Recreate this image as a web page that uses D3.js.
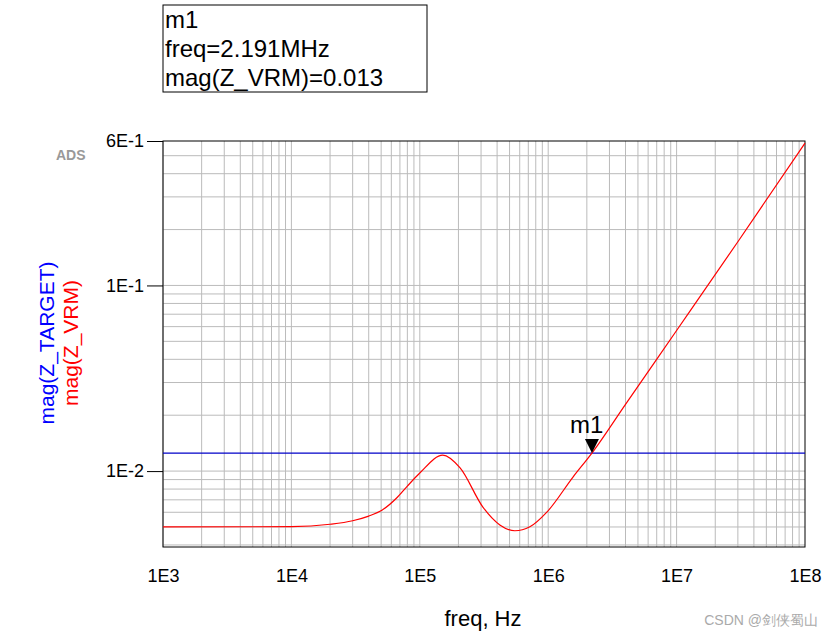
<!DOCTYPE html><html><head><script src="https://cdn.jsdelivr.net/npm/d3@7"></script>
<style>body{margin:0;background:#fff}text{font-family:Arial,"Liberation Sans",sans-serif}</style></head><body>
<svg id="c" width="830" height="638"></svg>
<script>
const freqs=[1e3,1e4,2e4,3e4,4e4,5.1e4,6.6e4,8e4,1e5,1.51e5,2.06e5,3.1e5,4.2e5,5.5e5,7.2e5,9.8e5,1.56e6,2.19e6,4e6,1e7,3e7,1e8];
const zvrm=[0.0050,0.00502,0.00517,0.00540,0.00572,0.00617,0.00716,0.0083,0.00976,0.0122,0.0104,0.0064,0.00513,0.00477,0.00501,0.00603,0.00929,0.0125,0.0229,0.0572,0.172,0.585];
const ztarget=[0.0125,0.0125];
const targetFreqs=[1e3,1e8];
const xTicks=[1e3,1e4,1e5,1e6,1e7,1e8];
const xTickLabels=["1E3","1E4","1E5","1E6","1E7","1E8"];
const yTicks=[0.6,0.1,0.01];
const yTickLabels=["6E-1","1E-1","1E-2"];
const marker={name:"m1",freq:2.191e6,val:0.0125,label:["m1","freq=2.191MHz","mag(Z_VRM)=0.013"]};

const svg=d3.select("#c");
const L=163,R=805,T=141,B=547;
const x=d3.scaleLog().domain([1e3,1e8]).range([L,R]);
const y=d3.scaleLog().domain([0.0039,0.6]).range([B,T]);
const xg=[];for(let d=3;d<8;d++)for(let k=1;k<10;k++)xg.push(k*10**d);
const yg=[];for(let d=-3;d<0;d++)for(let k=1;k<10;k++){const v=k*10**d;if(v>0.0039&&v<0.6)yg.push(v);}
svg.append("g").selectAll("line").data(xg).join("line").attr("x1",d=>x(d)).attr("x2",d=>x(d)).attr("y1",T).attr("y2",B).attr("stroke","#bbb").attr("stroke-width",1);
svg.append("g").selectAll("line").data(yg).join("line").attr("y1",d=>y(d)).attr("y2",d=>y(d)).attr("x1",L).attr("x2",R).attr("stroke","#bbb").attr("stroke-width",1);
svg.append("rect").attr("x",L).attr("y",T).attr("width",R-L).attr("height",B-T).attr("fill","none").attr("stroke","#000");
const xa=svg.append("g").attr("transform",`translate(0,${B})`).call(d3.axisBottom(x).tickValues(xTicks).tickFormat((d,i)=>xTickLabels[i]).tickSize(0).tickPadding(22));
xa.select(".domain").remove();xa.selectAll("text").attr("font-size",18).attr("fill","#000").attr("font-family","Arial");
const ya=svg.append("g").attr("transform",`translate(${L},0)`).call(d3.axisLeft(y).tickValues(yTicks).tickFormat((d,i)=>yTickLabels[i]).tickSize(16).tickPadding(3));
ya.select(".domain").remove();ya.selectAll("line").attr("stroke","#000");ya.selectAll("text").attr("font-size",18).attr("fill","#000").attr("font-family","Arial");
const line=d3.line().x(d=>x(d[0])).y(d=>y(d[1])).curve(d3.curveMonotoneX);
svg.append("path").attr("d",line(targetFreqs.map((f,i)=>[f,ztarget[i]]))).attr("stroke","#0000c8").attr("fill","none").attr("stroke-width",1.2);
svg.append("path").attr("d",line(freqs.map((f,i)=>[f,zvrm[i]]))).attr("stroke","#f00").attr("fill","none").attr("stroke-width",1.2);
const mx=x(marker.freq),my=y(marker.val);
svg.append("path").attr("d",`M${mx-7},${my-14}L${mx+7},${my-14}L${mx},${my}Z`).attr("fill","#000");
svg.append("text").attr("x",mx-22).attr("y",my-20).attr("font-size",24).text(marker.name);
svg.append("rect").attr("x",L).attr("y",5).attr("width",264).attr("height",87).attr("fill","#fff").attr("stroke","#000");
marker.label.forEach((t,i)=>svg.append("text").attr("x",L+2).attr("y",28+i*29).attr("font-size",24).text(t));
svg.append("text").attr("x",483).attr("y",626).attr("text-anchor","middle").attr("font-size",22).text("freq, Hz");
svg.append("text").attr("transform","translate(54,343) rotate(-90)").attr("text-anchor","middle").attr("font-size",21).attr("fill","#0000ff").text("mag(Z_TARGET)");
svg.append("text").attr("transform","translate(78,343) rotate(-90)").attr("text-anchor","middle").attr("font-size",21).attr("fill","#ff0000").text("mag(Z_VRM)");
svg.append("text").attr("x",56).attr("y",160).attr("font-size",14).attr("font-weight","bold").attr("fill","#999").text("ADS");
svg.append("text").attr("x",818).attr("y",625).attr("text-anchor","end").attr("font-size",14).attr("fill","#aaa").attr("font-family","Noto Sans CJK SC").text("CSDN @剑侠蜀山");
</script></body></html>
